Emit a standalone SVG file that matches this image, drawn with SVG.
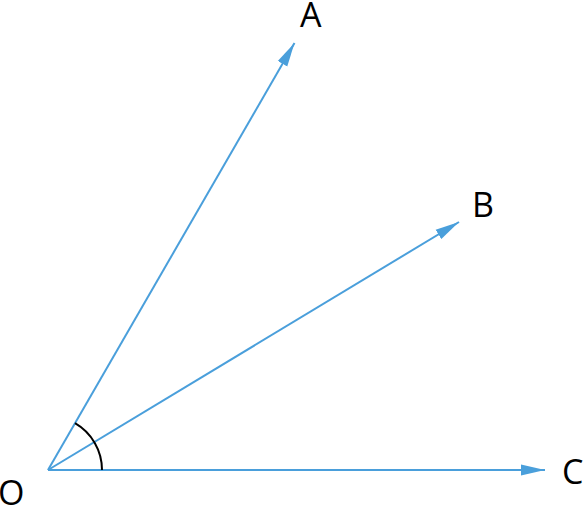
<svg xmlns="http://www.w3.org/2000/svg" width="585" height="506" viewBox="0 0 585 506">
<style>
.ray{stroke:#4a9fdb;stroke-width:2;fill:none;marker-end:url(#ah)}
.lbl{font-family:"Open Sans","Noto Sans",sans-serif;font-size:34px;fill:#000}
.arc{stroke:#000;stroke-width:2;fill:none}
</style>
<defs>
<marker id="ah" markerUnits="userSpaceOnUse" markerWidth="24" markerHeight="12" viewBox="0 0 22 10" refX="22" refY="5" orient="auto">
<path d="M0,0 L22,5 L0,10 Z" fill="#4a9fdb"/>
</marker>
</defs>
<g id="connectors">
<line class="ray" x1="48" y1="470" x2="294.5" y2="43"/>
<line class="ray" x1="48" y1="470" x2="459" y2="222"/>
<line class="ray" x1="48" y1="470" x2="545" y2="470"/>
</g>
<g id="angle">
<path class="arc" d="M102,470 A54,54 0 0 0 75,423.2"/>
</g>
<g id="O"><text class="lbl" x="-2" y="505">O</text></g>
<g id="A"><text class="lbl" x="300" y="27">A</text></g>
<g id="B"><text class="lbl" x="472" y="217">B</text></g>
<g id="C"><text class="lbl" x="562" y="484">C</text></g>
</svg>
